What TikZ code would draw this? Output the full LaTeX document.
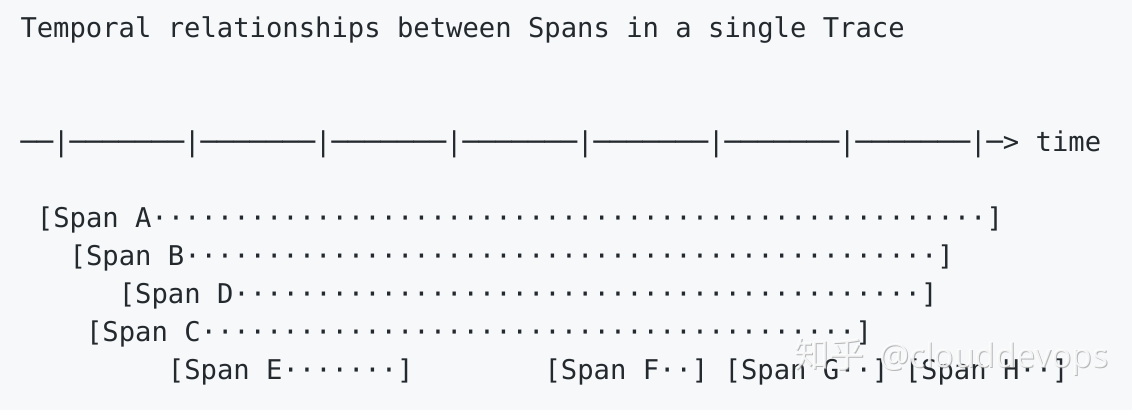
\documentclass[tikz,border=0pt]{standalone}
\usepackage{fontspec}
\setmonofont{DejaVu Sans Mono}
\newfontfamily\cjkfont{Noto Sans CJK SC}
\newfontfamily\wmfont{Noto Sans}
\definecolor{bg}{HTML}{F6F8FA}
\definecolor{ink}{HTML}{24292E}
\ExplSyntaxOn
\cs_new:Npn \myrep #1#2 { \prg_replicate:nn {#1} {#2} }
\ExplSyntaxOff
\newcommand\cw{16.376}
\begin{document}
\begin{tikzpicture}[x=1pt,y=-1pt,
  codeline/.style={anchor=base west, inner sep=0pt, outer sep=0pt, text=ink,
    font=\ttfamily\fontsize{27.2}{38}\selectfont},
  wmshadow/.style={anchor=base west, inner sep=0pt, outer sep=0pt, text=black!45, text opacity=0.6},
  wmtext/.style={anchor=base west, inner sep=0pt, outer sep=0pt, text=white, text opacity=0.85},
  wmcjk/.style={font=\cjkfont\fontsize{35}{38}\selectfont},
  wmlat/.style={font=\wmfont\fontsize{33.5}{38}\selectfont}]
\fill[bg] (0,0) rectangle (1132,410);
\useasboundingbox (0,0) rectangle (1132,410);
% rows: baseline = 37 + 38*k
\node[codeline] (title) at (20.5,37) {Temporal relationships between Spans in a single Trace};
\node[codeline] (axis) at (20.5,151) {──|\myrep{7}{───────|}─> time};
\node[codeline] (spanA) at ({20.5+1*\cw},227) {[Span A\myrep{51}{·}]};
\node[codeline] (spanB) at ({20.5+3*\cw},265) {[Span B\myrep{46}{·}]};
\node[codeline] (spanD) at ({20.5+6*\cw},303) {[Span D\myrep{42}{·}]};
\node[codeline] (spanC) at ({20.5+4*\cw},341) {[Span C\myrep{40}{·}]};
\node[codeline] (spanE) at ({20.5+9*\cw},379) {[Span E\myrep{7}{·}]};
\node[codeline] (spanF) at ({20.5+32*\cw},379) {[Span F\myrep{2}{·}]};
\node[codeline] (spanG) at ({20.5+43*\cw},379) {[Span G\myrep{2}{·}]};
\node[codeline] (spanH) at ({20.5+54*\cw},379) {[Span H\myrep{2}{·}]};
% watermark
\node[wmshadow,wmcjk] (wmcs) at (795,368) {知乎};
\node[wmtext,wmcjk] (wmc) at (794,367) {知乎};
\node[wmshadow,wmlat] (wmls) at (880,368) {@clouddevops};
\node[wmtext,wmlat] (wml) at (879,367) {@clouddevops};
\end{tikzpicture}
\end{document}
